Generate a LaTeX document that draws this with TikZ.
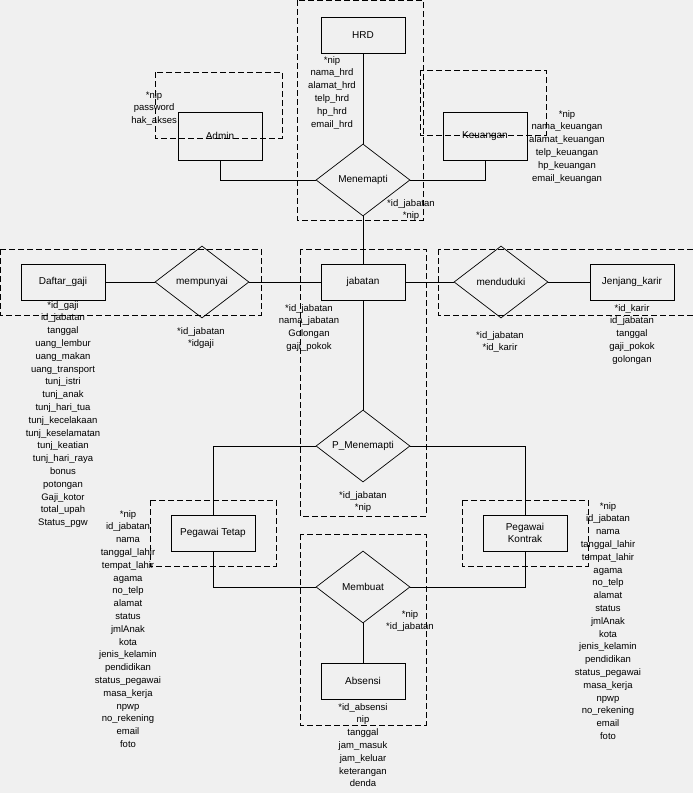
\documentclass[tikz,border=0pt]{standalone}
\usepackage{fontspec}
\setmainfont{Liberation Sans}
\usetikzlibrary{shapes.geometric}
\begin{document}
\begin{tikzpicture}[x=1pt,y=-1pt,
  ent/.style={draw,line width=0.8pt,minimum width=84pt,minimum height=36pt,inner sep=1pt,font=\fontsize{10}{12}\selectfont,align=center},
  rel/.style={draw,line width=0.7pt,diamond,minimum width=94pt,minimum height=72pt,aspect=1.3,inner sep=0pt,font=\fontsize{10}{12}\selectfont},
  att/.style={anchor=north,align=center,inner sep=0pt,font=\fontsize{9.5}{12.8}\selectfont},
  grp/.style={draw,dashed,line width=1pt,dash pattern=on 6pt off 3pt},
  ln/.style={draw,line width=0.8pt}]
\fill[gray!12] (0,0) rectangle (693,793);
\useasboundingbox (0,0) rectangle (693,793);
% groups
\draw[grp] (297,0) rectangle (423,220);
\draw[grp] (155,72) rectangle (282,138);
\draw[grp] (420,70) rectangle (546,135);
\draw[grp] (0,249) rectangle (261,315);
\draw[grp] (300,249) rectangle (426,516);
\draw[grp] (438,249) rectangle (693,315);
\draw[grp] (150,500) rectangle (276,566);
\draw[grp] (462,500) rectangle (588,566);
\draw[grp] (300,534) rectangle (426,725);
% nodes
\node[ent] (hrd) at (363,35) {HRD};
\node[ent,minimum height=48pt] (admin) at (220,136) {Admin};
\node[ent,minimum height=48pt] (keu) at (485,136) {Keuangan};
\node[rel] (men) at (363,180) {Menemapti};
\node[ent] (dg) at (63,282) {Daftar\_gaji};
\node[rel] (mp) at (202,282) {mempunyai};
\node[ent] (jab) at (363,282) {jabatan};
\node[rel] (mdd) at (501,282) {menduduki};
\node[ent] (jk) at (632,282) {Jenjang\_karir};
\node[rel] (pm) at (363,446) {P\_Menemapti};
\node[ent] (pt) at (213,533) {Pegawai Tetap};
\node[ent] (pk) at (525,533) {Pegawai\\Kontrak};
\node[rel] (mb) at (363,587) {Membuat};
\node[ent] (abs) at (363,681) {Absensi};
% connectors
\draw[ln] (hrd) -- (men);
\draw[ln] (admin.south) |- (men.west);
\draw[ln] (keu.south) |- (men.east);
\draw[ln] (men) -- (jab);
\draw[ln] (dg) -- (mp) -- (jab) -- (mdd) -- (jk);
\draw[ln] (jab) -- (pm);
\draw[ln] (pm.west) -| (pt.north);
\draw[ln] (pm.east) -| (pk.north);
\draw[ln] (pt.south) |- (mb.west);
\draw[ln] (pk.south) |- (mb.east);
\draw[ln] (mb) -- (abs);
% attributes
\node[att] (a1) at (332,56) {*nip\\nama\_hrd\\alamat\_hrd\\telp\_hrd\\hp\_hrd\\email\_hrd};
\node[att,anchor=north east] (a2) at (177,91) {*nip\\password\\hak\_akses};
\node[att] (a3) at (567,110) {*nip\\nama\_keuangan\\alamat\_keuangan\\telp\_keuangan\\hp\_keuangan\\email\_keuangan};
\node[att] (a4) at (411,199) {*id\_jabatan\\*nip};
\node[att] (a5) at (63,301) {*id\_gaji\\id\_jabatan\\tanggal\\uang\_lembur\\uang\_makan\\uang\_transport\\tunj\_istri\\tunj\_anak\\tunj\_hari\_tua\\tunj\_kecelakaan\\tunj\_keselamatan\\tunj\_keatian\\tunj\_hari\_raya\\bonus\\potongan\\Gaji\_kotor\\total\_upah\\Status\_pgw};
\node[att] (a6) at (201,327) {*id\_jabatan\\*idgaji};
\node[att] (a7) at (309,304) {*id\_jabatan\\nama\_jabatan\\Golongan\\gaji\_pokok};
\node[att] (a8) at (500,331) {*id\_jabatan\\*id\_karir};
\node[att] (a9) at (632,304) {*id\_karir\\id\_jabatan\\tanggal\\gaji\_pokok\\golongan};
\node[att] (a10) at (363,491) {*id\_jabatan\\*nip};
\node[att] (a11) at (128,510) {*nip\\id\_jabatan\\nama\\tanggal\_lahir\\tempat\_lahir\\agama\\no\_telp\\alamat\\status\\jmlAnak\\kota\\jenis\_kelamin\\pendidikan\\status\_pegawai\\masa\_kerja\\npwp\\no\_rekening\\email\\foto};
\node[att] (a12) at (608,502) {*nip\\id\_jabatan\\nama\\tanggal\_lahir\\tempat\_lahir\\agama\\no\_telp\\alamat\\status\\jmlAnak\\kota\\jenis\_kelamin\\pendidikan\\status\_pegawai\\masa\_kerja\\npwp\\no\_rekening\\email\\foto};
\node[att] (a13) at (410,610) {*nip\\*id\_jabatan};
\node[att] (a14) at (363,703) {*id\_absensi\\nip\\tanggal\\jam\_masuk\\jam\_keluar\\keterangan\\denda};
\end{tikzpicture}
\end{document}
